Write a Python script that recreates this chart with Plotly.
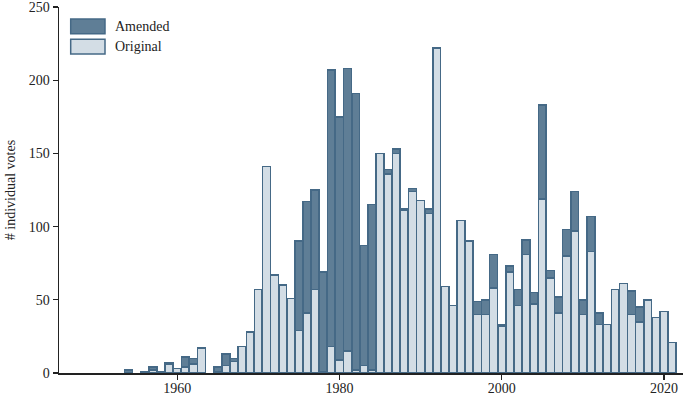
import plotly.graph_objects as go

years = list(range(1954, 2022))
original = [0, 0, 0, 2, 1, 6, 3, 4, 6, 17, 0, 1, 5, 8, 18, 28, 57,
            141, 67, 60, 51, 29, 41, 57, 1, 18, 9, 15, 2, 5, 2,
            150, 136, 150, 111, 124, 118, 109, 222, 59, 46, 104, 90,
            40, 40, 58, 32, 69, 46, 81, 47, 119, 65, 41, 80, 97, 40,
            83, 33, 33, 57, 61, 40, 35, 50, 38, 42, 21]
amended = [2, 0, 1, 2, 0, 1, 0, 7, 4, 0, 0, 3, 8, 2, 0, 0, 0,
           0, 0, 0, 0, 61, 76, 68, 68, 189, 166, 193, 189, 82, 113,
           0, 3, 3, 1, 2, 0, 3, 0, 0, 0, 0, 0,
           9, 10, 23, 1, 4, 11, 10, 8, 64, 5, 11, 18, 27, 10,
           24, 8, 0, 0, 0, 16, 10, 0, 0, 0, 0]

x_ticks = [1960, 1980, 2000, 2020]
y_ticks = [0, 50, 100, 150, 200, 250]

DARK = "#5f7e96"
LIGHT = "#d3dde5"
EDGE = "#456986"
FONT = "Liberation Serif"


def nz(v):
    return [a if a else None for a in v]


fig = go.Figure()
fig.add_trace(go.Bar(x=years, y=nz(original), name="Original",
                     marker=dict(color=LIGHT, line=dict(color=EDGE, width=1.5)),
                     showlegend=False))
fig.add_trace(go.Bar(x=years, y=nz(amended), name="Amended",
                     marker=dict(color=DARK, line=dict(color=EDGE, width=1.5)),
                     showlegend=False))

# custom legend
PL, PW, PT, PH = 59, 624, 7, 366


def px(xp):
    return (xp - PL) / PW


def py(yp):
    return (PT + PH - yp) / PH


legend_items = [("Amended", DARK, 19, 33.7), ("Original", LIGHT, 39.3, 54)]
for label, col, y0, y1 in legend_items:
    fig.add_shape(type="rect", xref="paper", yref="paper",
                  x0=px(70.7), x1=px(105), y0=py(y1), y1=py(y0),
                  fillcolor=col, line=dict(color=EDGE, width=1.5))
    fig.add_annotation(xref="paper", yref="paper", x=px(112.5), y=py((y0 + y1) / 2),
                       text=label, showarrow=False, xanchor="left", yanchor="middle",
                       font=dict(family=FONT, size=14, color="#222"))

fig.update_layout(
    width=685, height=397,
    margin=dict(l=59, r=2, t=7, b=24, autoexpand=False),
    barmode="stack", bargap=0.04,
    plot_bgcolor="white", paper_bgcolor="white",
    font=dict(family=FONT, size=14, color="#222"),
    xaxis=dict(range=[1945.43, 2022.35], tickvals=x_ticks, automargin=False,
               ticks="outside", ticklen=5, tickwidth=1.3, tickcolor="#222",
               showline=True, linecolor="#222", linewidth=1.5,
               showgrid=False, zeroline=False, ticklabeloverflow="allow",
               ticklabelstandoff=-3,
               tickfont=dict(family=FONT, size=14)),
    yaxis=dict(range=[0, 250], tickvals=y_ticks, automargin=False,
               ticks="outside", ticklen=5, tickwidth=1.3, tickcolor="#222",
               showline=True, linecolor="#222", linewidth=1.5,
               showgrid=False, zeroline=False, ticklabeloverflow="allow",
               title=dict(text="# individual votes", font=dict(family=FONT, size=14), standoff=10),
               tickfont=dict(family=FONT, size=14)),
)

fig.write_html("out.html", config={"displayModeBar": False, "staticPlot": True},
               post_script="document.body.style.margin='0';")
